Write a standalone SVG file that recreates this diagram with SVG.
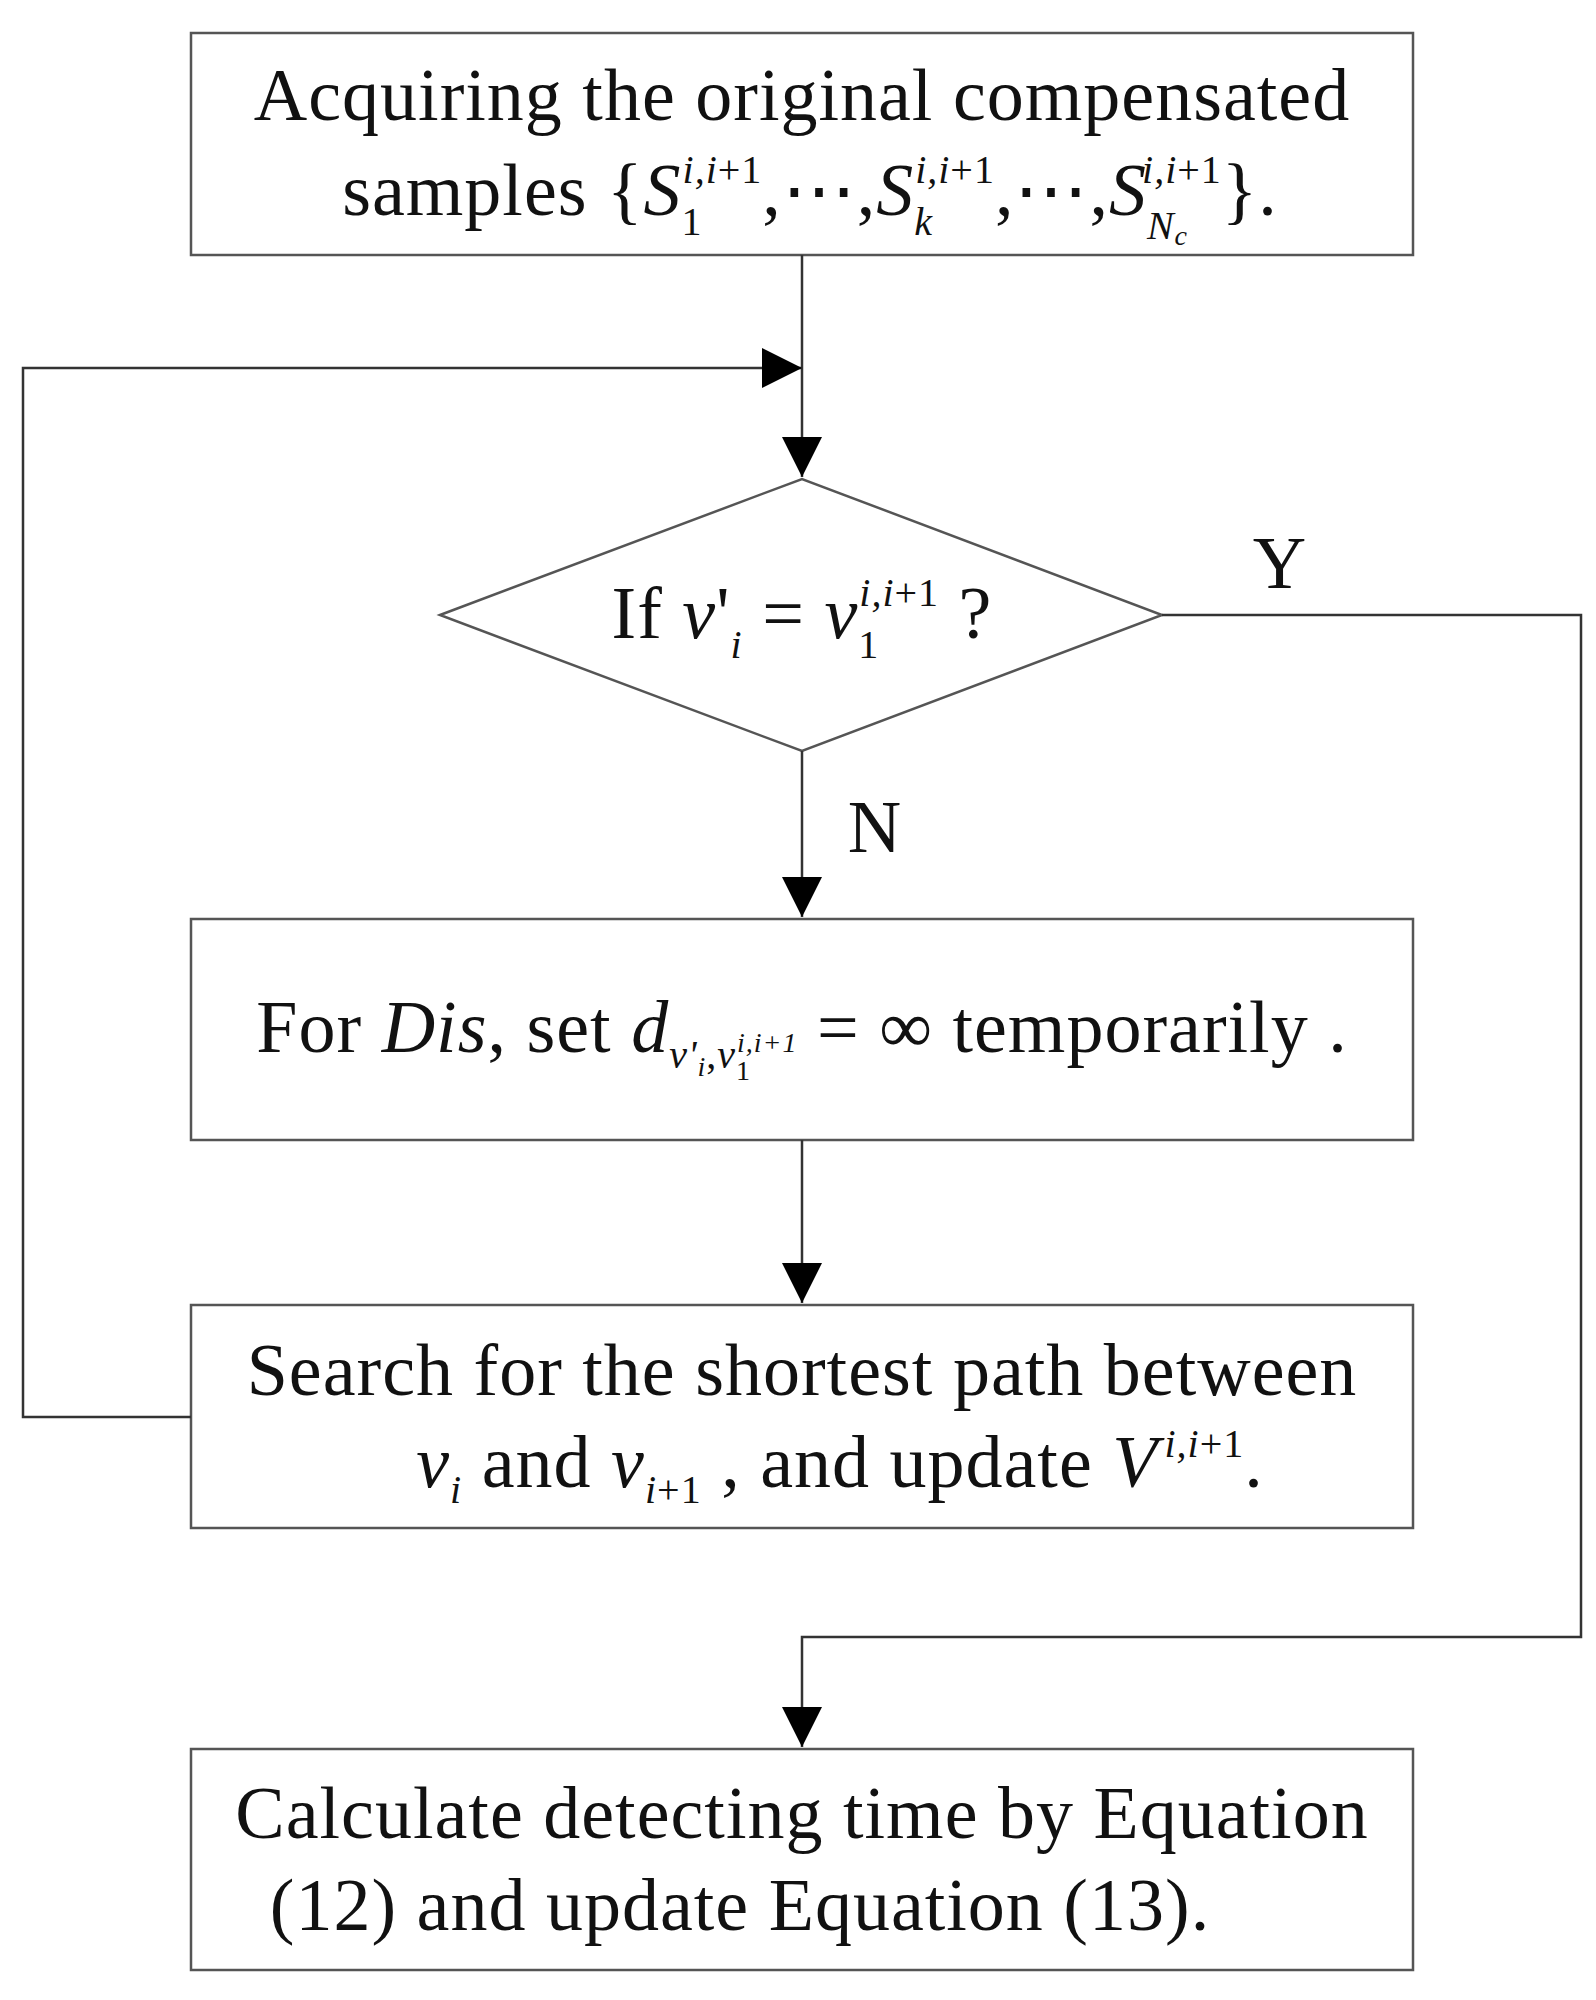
<svg xmlns="http://www.w3.org/2000/svg" width="1596" height="2000" viewBox="0 0 1596 2000">
<style>
.b{fill:#fff;stroke:#555;stroke-width:2.5}
.t{font-family:"Liberation Serif",serif;font-size:74px;fill:#111;text-anchor:middle;letter-spacing:1px}
.i{font-style:italic}
.s{font-size:40px}
.c{fill:none;stroke:#333;stroke-width:2.5}
</style>
<defs>
<marker id="m" viewBox="0 0 40 40" refX="40" refY="20" markerWidth="40" markerHeight="40" orient="auto" markerUnits="userSpaceOnUse"><path d="M0,0 L40,20 L0,40 Z" fill="#000"/></marker></defs>
<g id="n1"><rect class="b" x="191" y="33" width="1222" height="222"/>
<text class="t" x="802" y="120">Acquiring the original compensated</text>
<text class="t" x="810" y="215">samples {<tspan class="i">S</tspan><tspan class="s" dy="20">1</tspan><tspan class="s i" dx="-20" dy="-52">i,i</tspan><tspan class="s">+1</tspan><tspan dy="32">,⋯,</tspan><tspan class="i">S</tspan><tspan class="s i" dy="20">k</tspan><tspan class="s i" dx="-18" dy="-52">i,i</tspan><tspan class="s">+1</tspan><tspan dy="32">,⋯,</tspan><tspan class="i">S</tspan><tspan class="s i" dy="24">N</tspan><tspan class="i" style="font-size:28px" dy="6">c</tspan><tspan class="s i" dx="-46" dy="-62">i,i</tspan><tspan class="s">+1</tspan><tspan dy="32">}.</tspan></text></g>
<g id="n2"><polygon class="b" points="440,615 802,479 1162,615 802,751"/>
<text class="t" x="802" y="638">If  <tspan class="i">v</tspan>'<tspan class="s i" dy="20">i</tspan><tspan dy="-20"> = </tspan><tspan class="i">v</tspan><tspan class="s" dy="20">1</tspan><tspan class="s i" dx="-20" dy="-52">i,i</tspan><tspan class="s">+1</tspan><tspan dy="32"> ?</tspan></text></g>
<g id="n3"><rect class="b" x="191" y="919" width="1222" height="221"/>
<text class="t" x="802" y="1052">For <tspan class="i">Dis</tspan>, set  <tspan class="i">d</tspan><tspan class="s i" dy="16">v'</tspan><tspan class="i" style="font-size:28px" dy="8">i</tspan><tspan class="s" dy="-8">,</tspan><tspan class="s i">v</tspan><tspan style="font-size:28px" dy="12">1</tspan><tspan class="i" style="font-size:28px" dx="-14" dy="-28">i,i+1</tspan><tspan dy="0"> = ∞  temporarily .</tspan></text></g>
<g id="n4"><rect class="b" x="191" y="1305" width="1222" height="223"/>
<text class="t" x="802" y="1395">Search for the shortest path between</text>
<text class="t" x="840" y="1487"><tspan class="i">v</tspan><tspan class="s i" dy="16">i</tspan><tspan dy="-16"> and </tspan><tspan class="i">v</tspan><tspan class="s i" dy="16">i</tspan><tspan class="s">+1</tspan><tspan dy="-16"> , and update  </tspan><tspan class="i">V</tspan><tspan class="s i" dx="6" dy="-30">i,i</tspan><tspan class="s">+1</tspan><tspan dy="30">.</tspan></text></g>
<g id="n5"><rect class="b" x="191" y="1749" width="1222" height="221"/>
<text class="t" x="802" y="1838">Calculate detecting time by Equation</text>
<text class="t" x="740" y="1930">(12) and update Equation (13).</text></g>
<g id="connectors">
<line class="c" x1="802" y1="255" x2="802" y2="477" marker-end="url(#m)"/>
<polyline class="c" points="191,1417 23,1417 23,368 802,368" marker-end="url(#m)"/>
<line class="c" x1="802" y1="751" x2="802" y2="917" marker-end="url(#m)"/>
<line class="c" x1="802" y1="1140" x2="802" y2="1303" marker-end="url(#m)"/>
<polyline class="c" points="1162,615 1581,615 1581,1637 802,1637 802,1747" marker-end="url(#m)"/>
<text class="t" x="1280" y="588">Y</text>
<text class="t" x="875" y="852">N</text>
</g>
</svg>
